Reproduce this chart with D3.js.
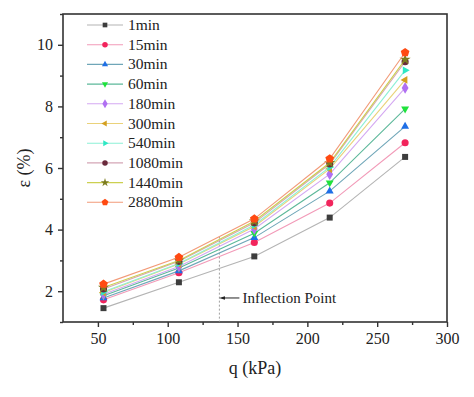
<!DOCTYPE html>
<html>
<head>
<meta charset="utf-8">
<script src="https://cdn.jsdelivr.net/npm/d3@7"></script>
<style>
  body { margin: 0; background: #fff; }
  svg { display: block; }
</style>
</head>
<body>
<svg width="474" height="397"></svg>
<script>
// load in kPa
const loads = [54, 108, 162, 216, 270];
const times = ["1min", "15min", "30min", "60min", "180min", "300min", "540min", "1080min", "1440min", "2880min"];
// strain in %
const strain1 = [1.45, 2.29, 3.13, 4.39, 6.36];
const strain15 = [1.72, 2.60, 3.58, 4.86, 6.82];
const strain30 = [1.78, 2.66, 3.74, 5.25, 7.35];
const strain60 = [1.85, 2.75, 3.88, 5.52, 7.92];
const strain180 = [1.90, 2.80, 4.02, 5.80, 8.60];
const strain300 = [1.96, 2.88, 4.10, 5.97, 8.86];
const strain540 = [1.98, 2.90, 4.15, 6.03, 9.17];
const strain1080 = [2.07, 2.97, 4.22, 6.13, 9.45];
const strain1440 = [2.12, 3.00, 4.27, 6.17, 9.52];
const strain2880 = [2.23, 3.10, 4.35, 6.30, 9.75];
const xTicks = [50, 100, 150, 200, 250, 300];
const yTicks = [2, 4, 6, 8, 10];
const inflection = 137;

const allStrain = [strain1, strain15, strain30, strain60, strain180, strain300, strain540, strain1080, strain1440, strain2880];

const markColors = ["#3d3d3d", "#f2245c", "#1f6fe6", "#1fe23c", "#b070f2", "#d4a020", "#2ee8c4", "#6a2a3c", "#7c7c1e", "#ff4a12"];
const lineColors = ["#b4b4b4", "#f29ab8", "#6fa6b8", "#5cb89a", "#d4a8f2", "#ead27a", "#8cf0d6", "#d4a6b6", "#ccd050", "#f29a78"];

const FONT = "'Liberation Serif', 'Times New Roman', Times, serif";

// custom symbols
function polygon(n, rot) {
	return {
		draw(ctx, size) {
			const r = Math.sqrt(size / 2.2);
			for (let i = 0; i < n; i++) {
				const a = rot + i * 2 * Math.PI / n;
				const px = r * Math.sin(a), py = -r * Math.cos(a);
				i ? ctx.lineTo(px, py) : ctx.moveTo(px, py);
			}
			ctx.closePath();
		}
	};
}
const triUp = polygon(3, 0);
const triDown = polygon(3, Math.PI);
const triLeft = polygon(3, -Math.PI / 2);
const triRight = polygon(3, Math.PI / 2);
const symbols = [d3.symbolSquare, d3.symbolCircle, triUp, triDown, d3.symbolDiamond, triLeft, triRight, d3.symbolCircle, d3.symbolStar, polygon(5, 0)];
const sizes = [36, 40, 46, 46, 40, 46, 46, 40, 38, 46];

const margin = {left: 63, top: 14, right: 27, bottom: 75};
const width = 474, height = 397;

const svg = d3.select("svg");

const x = d3.scaleLinear().domain([25, 300]).range([margin.left, width - margin.right]);
const y = d3.scaleLinear().domain([1, 11]).range([height - margin.bottom, margin.top]);

// frame
svg.append("rect")
	.attr("x", margin.left)
	.attr("y", margin.top)
	.attr("width", x(300) - x(25))
	.attr("height", y(1) - y(11))
	.attr("fill", "none")
	.attr("stroke", "#333")
	.attr("stroke-width", 1.6);

// axes
svg.append("g")
	.attr("transform", `translate(0,${y(1)})`)
	.call(d3.axisBottom(x).tickValues(xTicks).tickSize(5).tickPadding(6));
svg.append("g")
	.attr("transform", `translate(0,${y(1)})`)
	.call(d3.axisBottom(x).tickValues([75, 125, 175, 225, 275]).tickSize(3).tickFormat(""));

svg.append("g")
	.attr("transform", `translate(${x(25)},0)`)
	.call(d3.axisLeft(y).tickValues(yTicks).tickSize(5).tickPadding(5));
svg.append("g")
	.attr("transform", `translate(${x(25)},0)`)
	.call(d3.axisLeft(y).tickValues([1, 3, 5, 7, 9, 11]).tickSize(3).tickFormat(""));

svg.selectAll(".domain").remove();
svg.selectAll(".tick line").attr("stroke", "#333").attr("stroke-width", 1.4);
svg.selectAll(".tick text")
	.attr("font-family", FONT)
	.attr("font-size", 16)
	.attr("fill", "#222");

// axis titles
svg.append("text")
	.attr("x", x(162.5))
	.attr("y", 374)
	.attr("text-anchor", "middle")
	.attr("font-family", FONT)
	.attr("font-size", 18)
	.attr("fill", "#222")
	.text("q (kPa)");

svg.append("text")
	.attr("transform", `translate(30,${y(6)}) rotate(-90)`)
	.attr("text-anchor", "middle")
	.attr("font-family", FONT)
	.attr("font-size", 18)
	.attr("fill", "#222")
	.text("ε (%)");

// inflection point
const topOfLine = strain2880[1] + (inflection - loads[1]) / (loads[2] - loads[1]) * (strain2880[2] - strain2880[1]);
svg.append("line")
	.attr("x1", x(inflection)).attr("x2", x(inflection))
	.attr("y1", y(topOfLine)).attr("y2", y(1))
	.attr("stroke", "#888")
	.attr("stroke-width", 0.8)
	.attr("stroke-dasharray", "2,2");

svg.append("defs").append("marker")
	.attr("id", "arrow")
	.attr("viewBox", "0 0 10 10")
	.attr("refX", 1).attr("refY", 5)
	.attr("markerWidth", 6).attr("markerHeight", 6)
	.attr("orient", "auto-start-reverse")
	.append("path")
	.attr("d", "M0,2 L10,5 L0,8 z")
	.attr("fill", "#222");

svg.append("line")
	.attr("x1", x(inflection) + 20).attr("x2", x(inflection) + 5)
	.attr("y1", y(1.78)).attr("y2", y(1.78))
	.attr("stroke", "#222")
	.attr("stroke-width", 1)
	.attr("marker-end", "url(#arrow)");

svg.append("text")
	.attr("x", x(inflection) + 23)
	.attr("y", y(1.78) + 5)
	.attr("font-family", FONT)
	.attr("font-size", 15)
	.attr("fill", "#222")
	.text("Inflection Point");

// series
const line = d3.line()
	.x((d, i) => x(loads[i]))
	.y(d => y(d));

allStrain.forEach((series, k) => {
	const g = svg.append("g");
	g.append("path")
		.datum(series)
		.attr("d", line)
		.attr("fill", "none")
		.attr("stroke", lineColors[k])
		.attr("stroke-width", 1.1);
	g.selectAll("path.pt")
		.data(series)
		.enter().append("path")
		.attr("class", "pt")
		.attr("transform", (d, i) => `translate(${x(loads[i])},${y(d)})`)
		.attr("d", d3.symbol(symbols[k], sizes[k]))
		.attr("fill", markColors[k]);
});

// legend
const legend = svg.append("g")
	.selectAll("g")
	.data(times)
	.enter().append("g")
	.attr("transform", (d, i) => `translate(87,${25 + i * 19.7})`);

legend.append("line")
	.attr("x1", 0).attr("x2", 36)
	.attr("stroke", (d, i) => lineColors[i])
	.attr("stroke-width", 1.1);

legend.append("path")
	.attr("transform", "translate(18,0)")
	.attr("d", (d, i) => d3.symbol(symbols[i], sizes[i] * 0.6)())
	.attr("fill", (d, i) => markColors[i]);

legend.append("text")
	.attr("x", 41)
	.attr("y", 5)
	.attr("font-family", FONT)
	.attr("font-size", 15.5)
	.attr("fill", "#222")
	.text(d => d);
</script>
</body>
</html>
